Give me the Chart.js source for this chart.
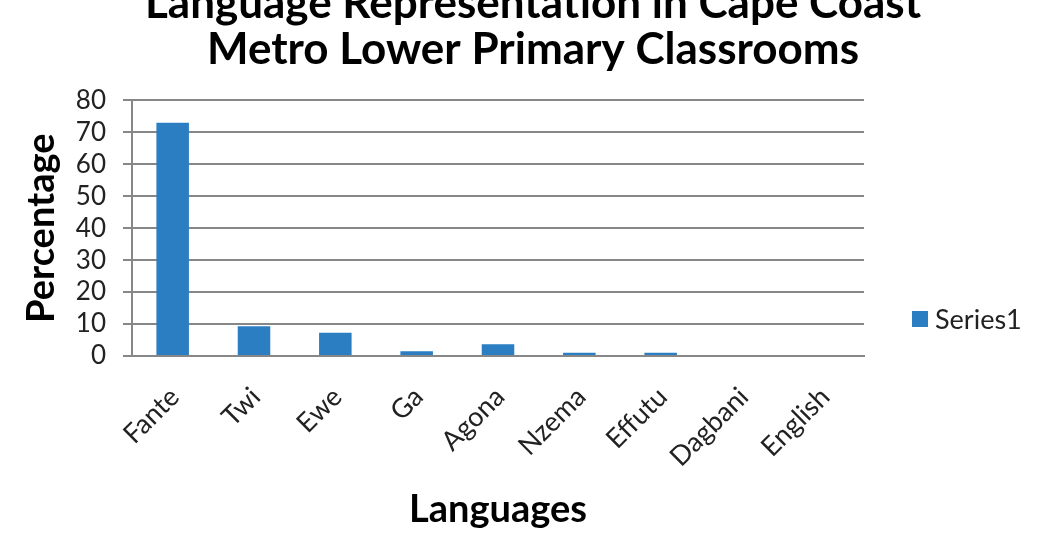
<!DOCTYPE html>
<html>
<head>
<meta charset="utf-8">
<script src="https://cdn.jsdelivr.net/npm/chart.js@4"></script>
<style>
  html, body { margin: 0; padding: 0; background: #fff; overflow: hidden; }
  #wrap { width: 1042px; height: 540px; }
</style>
</head>
<body>
<div id="wrap"><canvas id="myChart"></canvas></div>
<script>
// chart data
const languages = ["Fante", "Twi", "Ewe", "Ga", "Agona", "Nzema", "Effutu", "Dagbani", "English"];
const percentages = [73, 9.3, 7.3, 1.5, 3.7, 1, 1, 0, 0];
const seriesName = "Series1";
const titleLines = ["Language Representation in Cape Coast", "Metro Lower Primary Classrooms"];

const FONT = "Lato";
const gridColor = "#878787";
const barColor = "#2a7ec1";

// legend drawn by hand so it sits where the original does
const sideLegend = {
  id: "sideLegend",
  afterDraw: (chart) => {
    const ctx = chart.ctx;
    const ds = chart.data.datasets[0];
    ctx.save();
    ctx.fillStyle = ds.backgroundColor;
    ctx.fillRect(912, 311, 16, 16);
    ctx.fillStyle = "#222";
    ctx.font = "27px " + FONT;
    ctx.textBaseline = "middle";
    ctx.fillText(ds.label, 935, 320);
    ctx.restore();
  }
};

new Chart("myChart", {
  type: "bar",
  data: {
    labels: languages,
    datasets: [{
      label: seriesName,
      data: percentages,
      backgroundColor: barColor,
      categoryPercentage: 1,
      barPercentage: 0.4
    }]
  },
  options: {
    responsive: true,
    maintainAspectRatio: false,
    animation: false,
    layout: { padding: { left: 24, right: 0, top: 0, bottom: 0 } },
    plugins: {
      legend: { display: false },
      tooltip: { enabled: false },
      title: {
        display: true,
        text: titleLines,
        color: "#000",
        font: { family: FONT, size: 44, weight: "bold", lineHeight: 1.05 },
        padding: { top: -19, bottom: 27 }
      }
    },
    scales: {
      x: {
        grid: { display: false, drawTicks: false },
        border: { color: gridColor, width: 2 },
        ticks: {
          color: "#222",
          font: { family: FONT, size: 27 },
          minRotation: 45,
          maxRotation: 45,
          autoSkip: false,
          labelOffset: 2,
          padding: 25
        },
        title: {
          display: true,
          text: "Languages",
          color: "#000",
          font: { family: FONT, size: 38, weight: "bold" },
          padding: { top: 0, bottom: 7 }
        },
        afterFit: (scale) => { scale.height = 184; }
      },
      y: {
        min: 0,
        max: 80,
        ticks: {
          stepSize: 10,
          autoSkip: false,
          color: "#222",
          font: { family: FONT, size: 26 },
          padding: 17
        },
        grid: { color: gridColor, lineWidth: 2, tickLength: 9 },
        border: { color: gridColor, width: 2 },
        title: {
          display: true,
          text: "Percentage",
          color: "#000",
          font: { family: FONT, size: 38, weight: "bold" },
          padding: { top: -5, bottom: 0 }
        },
        afterFit: (scale) => { scale.width = 108; }
      },
      // empty right-hand axis that only keeps room for the legend
      side: {
        position: "right",
        display: true,
        grid: { display: false, drawTicks: false },
        border: { display: false },
        ticks: { display: false },
        afterFit: (scale) => { scale.width = 178; }
      }
    }
  },
  plugins: [sideLegend]
});
</script>
</body>
</html>
